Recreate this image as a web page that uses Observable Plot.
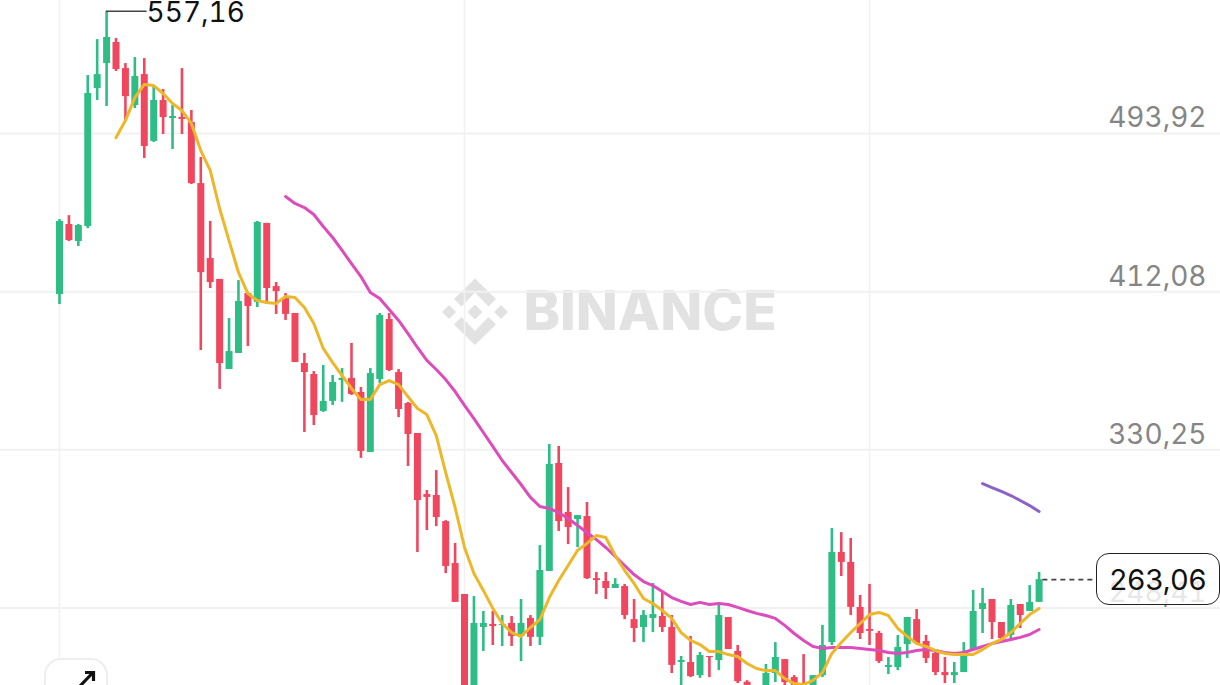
<!DOCTYPE html>
<html>
<head>
<meta charset="utf-8">
<script src="https://cdn.jsdelivr.net/npm/d3@7"></script>
<script src="https://cdn.jsdelivr.net/npm/@observablehq/plot@0.6"></script>
<style>
html,body{margin:0;padding:0;background:#fff;overflow:hidden}
#wrap{position:relative;width:1220px;height:685px;overflow:hidden}
#wrap svg{position:absolute;left:0;top:0}
#tag{position:absolute;left:1096px;width:122px;height:50px;border:1.5px solid #222;border-radius:13px;background:rgba(255,255,255,.8);
 font:29px Inter,sans-serif;color:#111;display:flex;align-items:center;justify-content:center;box-sizing:content-box}
</style>
</head>
<body>
<div id="wrap"></div>
<script>
const opens=[410.6,446.8,438.0,445.8,517.2,530.1,541.0,527.5,508.4,524.4,489.8,511.0,501.7,502.2,499.6,468.0,429.2,418.4,371.8,380.1,411.1,406.5,447.4,414.7,409.0,400.8,374.9,369.2,350.1,355.3,366.1,367.2,359.9,328.9,366.6,397.7,370.2,354.2,338.7,307.1,306.6,293.1,271.4,255.4,205,238.3,239.9,239.4,240.4,233.7,243.0,233.2,267.3,323.2,297.8,294.2,295.7,263.6,262.1,258.5,259.5,242.4,238.3,243.0,244.0,238.3,220.2,220.2,213.4,223.3,221.2,243.5,225.9,210.0,204,205,214.5,221.7,212.4,207,205,213.4,230.5,277.1,272.0,248.7,237.3,235.2,217.6,217.6,229.5,242.4,231.1,224.9,215.0,213.4,215.0,226.4,247.6,252.8,240.9,234.2,250.2,246.6,251.3];
const highs=[449.4,451.4,446.8,523.9,542.5,557.16,543.1,530.1,533.2,532.7,518.7,516.7,508.4,527.5,505.8,481.5,448.4,418.4,398.2,417.8,411.6,448.4,447.4,416.8,411.1,400.8,380.1,370.7,373.9,368.7,372.3,385.3,362.5,372.3,400.8,400.8,371.8,354.8,338.7,309.2,319.5,293.6,281.8,255.4,254.3,246.6,246.6,244.5,244.0,252.8,244.5,280.7,333.0,332.0,310.7,296.2,303.0,266.8,266.8,263.6,260.6,252.8,247.1,261.1,256.4,244.5,223.3,233.7,225.4,223.3,249.7,243.5,229.0,210.8,207,219.2,230.5,221.7,213.4,224.3,213.4,239.4,289.5,287.4,284.4,254.9,260.6,236.3,222.8,234.2,243.5,247.6,234.2,225.4,222.8,220.2,230.5,257.5,258.5,252.8,240.9,252.8,250.2,260.0,266.8];
const lows=[405.4,438.0,435.4,444.7,511.0,507.9,526.0,500.6,506.8,481.0,489.3,493.4,485.6,493.4,467.5,381.6,413.7,361.5,371.8,380.1,383.7,403.9,405.4,400.3,397.2,375.4,339.2,342.8,349.6,353.2,354.8,358.4,325.8,328.9,364.6,370.7,346.9,321.6,277.1,288.5,290.5,266.2,251.3,205,200,225.9,229.0,228.5,228.5,220.7,228.5,229.0,267.3,288.0,281.2,279.6,263.1,255.4,252.8,258.5,242.4,230.5,230.5,235.7,235.7,214.5,205,212.4,212.0,212.4,216.0,226.9,209.3,203,200,203,209.8,207,203,200,203,212.4,229.0,264.7,244.5,232.1,229.0,219.7,214.0,216.0,222.3,229.5,219.7,213.4,209.3,209.3,215.0,226.4,235.2,232.1,231.6,231.6,237.8,246.6,251.3];
const closes=[448.4,438.5,446.3,514.6,524.4,543.6,527.0,513.0,523.4,487.2,511.0,502.2,502.7,501.2,468.0,421.9,416.8,374.9,381.1,407.0,404.4,447.9,413.7,412.1,400.3,375.4,370.2,348.0,355.3,365.1,367.2,358.9,329.4,369.7,399.8,371.3,351.1,338.2,304.0,305.6,295.2,269.9,251.3,205,240.4,240.4,238.8,239.9,233.7,240.4,233.2,267.8,322.7,293.1,290.0,296.2,263.6,262.6,258.5,260.6,244.5,237.8,244.5,245.0,238.3,218.7,221.2,212.9,223.8,222.8,244.5,226.9,210.3,205,206,214.5,222.8,209.8,205,204,213.4,229.0,277.1,272.0,248.7,235.2,236.3,220.7,218.7,228.0,243.5,230.0,222.3,215.0,213.4,215.0,223.8,246.6,250.7,240.9,232.6,249.7,244.5,251.3,263.06];
const ma7=[491.8,500.6,512.5,519.3,518.7,514.6,509.4,505.8,499.1,485.1,474.8,455.1,438.5,422.0,411.1,407.5,406.5,406.0,409.6,409.1,403.9,395.6,382.7,375.4,368.7,362.0,356.3,356.3,364.0,366.1,364.0,357.8,351.6,348.5,337.6,318.5,300.4,279.7,266.2,257.5,248.2,240.4,235.7,233.7,238.3,242.4,253.8,262.6,270.4,278.2,281.8,285.9,284.9,275.6,267.8,261.1,253.3,250.7,247.1,243.0,235.7,231.6,229.5,225.9,225.9,224.3,223.3,219.7,217.1,216.0,216.0,211.9,209.3,208.8,210.9,215.0,224.9,230.5,235.7,240.4,245.0,246.1,244.5,237.8,233.7,230.0,228.5,226.4,224.9,224.4,224.4,224.4,226.9,230.0,232.1,235.7,240.4,245.0,248.2];
const ma25=[461.3,457.7,455.6,452.0,445.8,440.1,433.4,426.6,419.9,411.6,408.5,402.8,397.2,390.4,383.2,376.5,371.8,366.6,360.4,353.2,346.4,339.2,332.0,324.7,318.5,312.3,305.6,300.9,299.9,297.8,294.7,291.1,287.5,283.8,279.7,275.1,270.4,265.7,262.1,260.0,256.9,253.8,251.8,250.2,251.3,250.2,250.7,250.2,248.7,247.1,245.6,244.5,243.0,239.4,235.2,231.6,228.5,227.5,228.0,228.0,228.0,227.5,226.9,226.4,225.4,224.9,225.4,226.4,226.9,226.4,225.4,224.9,225.4,226.9,228.5,230.0,231.1,232.1,233.2,234.7,237.3];
const ma99=[312.8,310.7,308.7,306.6,304.0,301.4,298.3];
const ma7Start=6, ma25Start=24, ma99Start=98;
const yTicks=[493.92,412.08,330.25,248.41];
const xGrid=[0,43,86];
const highPoint={i:5,v:557.16};
const lastPrice=263.06;
const fmt=v=>v.toFixed(2).replace(".",",");

const candles=opens.map((o,i)=>({i,o,h:highs[i],l:lows[i],c:closes[i]}));
const up=candles.filter(d=>d.c>=d.o), down=candles.filter(d=>d.c<d.o);
const GREEN="#2EBD85", RED="#F0475F";
const series=(arr,start)=>arr.map((v,k)=>({i:start+k,v}));
const line=(arr,start,color)=>Plot.line(series(arr,start),{x:"i",y:"v",stroke:color,strokeWidth:3,curve:"linear"});

const chart=Plot.plot({
  width:1220,height:685,margin:0,style:{background:"transparent",overflow:"hidden"},
  x:{domain:[-6.264,123.26],range:[0,1220],axis:null},
  y:{domain:[562.73,208.3],range:[0,685],axis:null,type:"linear"},
  marks:[
    Plot.text(["BINANCE"],{x:62.7,y:401.5,text:d=>d,fontFamily:"Inter",fontWeight:800,fontSize:55,fill:"#e2e2e2",letterSpacing:"3.6px"}),
    Plot.ruleY(yTicks,{stroke:"#f1f1f1",strokeWidth:2}),
    Plot.ruleX(xGrid,{stroke:"#f1f1f1",strokeWidth:1.6}),
    Plot.ruleX(up,{x:"i",y1:"l",y2:"h",stroke:GREEN,strokeWidth:2.6}),
    Plot.ruleX(down,{x:"i",y1:"l",y2:"h",stroke:RED,strokeWidth:2.6}),
    Plot.ruleX(up,{x:"i",y1:"o",y2:"c",stroke:GREEN,strokeWidth:7}),
    Plot.ruleX(down,{x:"i",y1:"o",y2:"c",stroke:RED,strokeWidth:7}),
    line(ma99,ma99Start,"#8C62C6"),
    line(ma25,ma25Start,"#DC4CBC"),
    line(ma7,ma7Start,"#EDB72A"),
    Plot.axisY(yTicks,{anchor:"right",tickSize:0,tickPadding:0,label:null,tickFormat:fmt,textAnchor:"end",dx:-14,dy:-15,fontSize:28,fontFamily:"Inter",fill:"#858585"}),
    Plot.ruleY([highPoint],{x1:d=>d.i,x2:d=>d.i+4.3,y:"v",stroke:"#444",strokeWidth:1.6}),
    Plot.text([highPoint],{x:"i",y:"v",text:d=>fmt(d.v),dx:40,dy:1.5,textAnchor:"start",lineAnchor:"middle",fontFamily:"Inter",fontSize:28,fill:"#111",fontVariant:"tabular-nums"}),
    Plot.ruleY([lastPrice],{x1:104.4,x2:110.1,stroke:"#444",strokeWidth:1.6,strokeDasharray:"5 4"})
  ]
});

const wrap=document.getElementById("wrap");
// watermark logo sits under the chart
const NS="http://www.w3.org/2000/svg";
const under=document.createElementNS(NS,"svg");
under.setAttribute("width",1220);under.setAttribute("height",685);
under.innerHTML=`<g fill="#e2e2e2">
<path d="M475 278.5L496 299L488.5 306.5L475 292.5L461.5 306.5L454 299Z"/>
<path d="M475 345L496 324.5L488.5 317L475 331L461.5 317L454 324.5Z"/>
<path d="M475 304.5L482.5 312L475 319.5L467.5 312Z"/>
<path d="M449 305L456 312L449 319L442 312Z"/>
<path d="M501 305L508 312L501 319L494 312Z"/></g>`;
wrap.appendChild(under);
wrap.appendChild(chart);

// last-price tag, placed from the y scale
const y=chart.scale("y");
const tag=document.createElement("div");
tag.id="tag";tag.textContent=fmt(lastPrice);
tag.style.top=(y.apply(lastPrice)-26)+"px";
wrap.appendChild(tag);

// corner button
const over=document.createElementNS(NS,"svg");
over.setAttribute("width",1220);over.setAttribute("height",685);
over.innerHTML=`<rect x="45" y="659" width="62" height="60" rx="16" fill="#fff" stroke="#eeeeee" stroke-width="2"/>
<path d="M80 686L93 672.5M85 672.5H93.5V681" fill="none" stroke="#111" stroke-width="3.2"/>`;
wrap.appendChild(over);
</script>
</body>
</html>
